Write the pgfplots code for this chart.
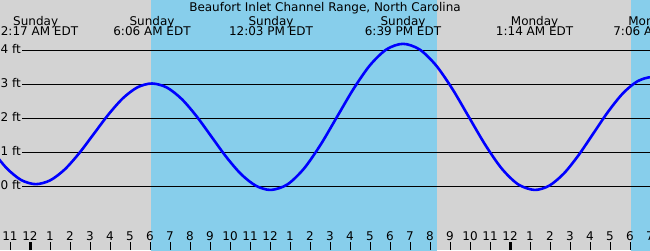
\documentclass[border=0pt]{standalone}
\usepackage{fontspec}
\setmainfont{DejaVu Sans}
\usepackage{pgfplots}
\pgfplotsset{compat=1.18}
\definecolor{bg}{HTML}{D3D3D3}
\definecolor{day}{HTML}{87CEEB}
\definecolor{tide}{HTML}{0000FF}
\begin{document}
\fontsize{12}{14}\selectfont
\begin{tikzpicture}
\useasboundingbox (0,0) rectangle (650pt,250pt);
\clip (0,0) rectangle (650pt,250pt);
\begin{axis}[
  at={(0,0)}, anchor=south west,
  scale only axis, width=650pt, height=250pt,
  xmin=-1.5, xmax=31, ymin=-1.882, ymax=5.493,
  axis background/.style={fill=bg},
  axis x line*=bottom, axis y line=none,
  axis line style={draw=none},
  axis on top,
  xtick={-1,0,...,31},
  xticklabels={11,12,1,2,3,4,5,6,7,8,9,10,11,12,1,2,3,4,5,6,7,8,9,10,11,12,1,2,3,4,5,6,7},
  xticklabel style={anchor=base, yshift=10pt, font=\fontsize{12}{14}\selectfont},
  tick align=inside,
  major tick length=8.5pt,
  major tick style={black, line width=1pt},
  extra x ticks={0,24},
  extra x tick labels={},
  extra x tick style={major tick style={black, line width=3pt}},
  ytick=\empty,
  clip=true,
]
% daylight
\addplot[fill=day, draw=none] coordinates {(6.05,-1.9) (20.37,-1.9) (20.37,5.6) (6.05,5.6)} -- cycle;
\addplot[fill=day, draw=none] coordinates {(30.05,-1.9) (31.5,-1.9) (31.5,5.6) (30.05,5.6)} -- cycle;
% reference lines
\addplot[black, line width=1pt] coordinates {(-0.4,0) (31.5,0)};
\addplot[black, line width=1pt] coordinates {(-0.4,1) (31.5,1)};
\addplot[black, line width=1pt] coordinates {(-0.4,2) (31.5,2)};
\addplot[black, line width=1pt] coordinates {(-0.4,3) (31.5,3)};
\addplot[black, line width=1pt] coordinates {(-0.4,4) (31.5,4)};
% tide curve
\addplot[tide, line width=2.6pt, smooth] coordinates {
(-1.867,1.029) (-1.150,0.520) (-0.434,0.180) (0.283,0.06) (1.010,0.173) (1.737,0.495) (2.464,0.977) (3.192,1.545) (3.919,2.113) (4.646,2.595) (5.373,2.917) (6.1,3.03)
(6.844,2.911) (7.588,2.570) (8.331,2.061) (9.075,1.460) (9.819,0.859) (10.563,0.350) (11.306,0.010) (12.05,-0.11)
(12.875,0.054) (13.7,0.521) (14.525,1.220) (15.35,2.045) (16.175,2.870) (17.0,3.569) (17.825,4.036) (18.65,4.2)
(19.473,4.036) (20.295,3.569) (21.118,2.870) (21.94,2.045) (22.763,1.220) (23.585,0.521) (24.408,0.054) (25.23,-0.11)
(25.964,0.017) (26.698,0.378) (27.431,0.918) (28.165,1.555) (28.899,2.192) (29.633,2.732) (30.366,3.093) (31.1,3.22) (31.8,3.10)
};
% y labels
\node[anchor=east, yshift=1.5pt, inner sep=0pt] at (axis cs:-0.45,0) {0 ft};
\node[anchor=east, yshift=1.5pt, inner sep=0pt] at (axis cs:-0.45,1) {1 ft};
\node[anchor=east, yshift=1.5pt, inner sep=0pt] at (axis cs:-0.45,2) {2 ft};
\node[anchor=east, yshift=1.5pt, inner sep=0pt] at (axis cs:-0.45,3) {3 ft};
\node[anchor=east, yshift=1.5pt, inner sep=0pt] at (axis cs:-0.45,4) {4 ft};
% title
\node[anchor=base, inner sep=0pt] at (axis cs:14.75,5.139) {Beaufort Inlet Channel Range, North Carolina};
% tide labels
\node[anchor=base, inner sep=0pt] at (axis cs:0.283,4.755) {Sunday};
\node[anchor=base, inner sep=0pt] at (axis cs:0.283,4.431) {12:17 AM EDT};
\node[anchor=base, inner sep=0pt] at (axis cs:6.1,4.755) {Sunday};
\node[anchor=base, inner sep=0pt] at (axis cs:6.1,4.431) {6:06 AM EDT};
\node[anchor=base, inner sep=0pt] at (axis cs:12.05,4.755) {Sunday};
\node[anchor=base, inner sep=0pt] at (axis cs:12.05,4.431) {12:03 PM EDT};
\node[anchor=base, inner sep=0pt] at (axis cs:18.65,4.755) {Sunday};
\node[anchor=base, inner sep=0pt] at (axis cs:18.65,4.431) {6:39 PM EDT};
\node[anchor=base, inner sep=0pt] at (axis cs:25.23,4.755) {Monday};
\node[anchor=base, inner sep=0pt] at (axis cs:25.23,4.431) {1:14 AM EDT};
\node[anchor=base, inner sep=0pt] at (axis cs:31.1,4.755) {Monday};
\node[anchor=base, inner sep=0pt] at (axis cs:31.1,4.431) {7:06 AM EDT};
\end{axis}
\end{tikzpicture}
\end{document}
